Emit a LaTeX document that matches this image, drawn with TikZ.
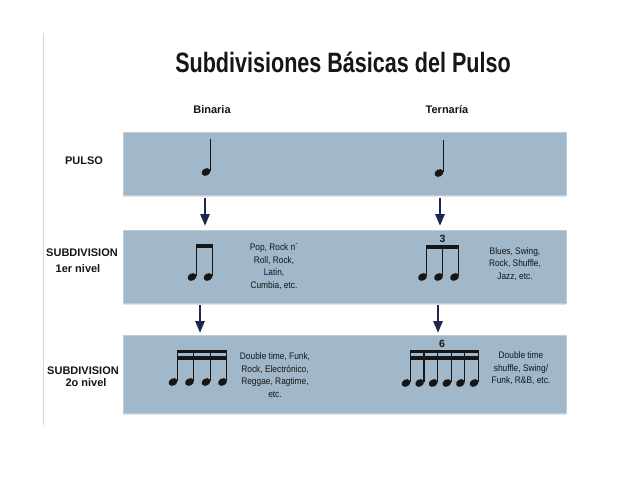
\documentclass[tikz,border=0pt]{standalone}
\usepackage{fontspec}
\setmainfont{Liberation Sans}
\newfontfamily\titlefont{Liberation Sans}[FakeStretch=0.77]
\newfontfamily\narrowfont{Liberation Sans}[FakeStretch=0.88]
\usetikzlibrary{shadows,arrows.meta}
\definecolor{bandcol}{RGB}{160,184,202}
\definecolor{arrcol}{RGB}{30,38,80}
\definecolor{inkcol}{RGB}{22,22,22}
\definecolor{rulecol}{RGB}{215,215,215}
\tikzset{
  band/.style={fill=bandcol, draw=bandcol!70!white, line width=0.8pt, minimum width=443pt, inner sep=0pt,
    drop shadow={opacity=0.22, shadow xshift=0pt, shadow yshift=-2pt}},
  rowlab/.style={font=\fontsize{11}{13}\selectfont\bfseries, anchor=base, inner sep=0pt, text=inkcol},
  info/.style={font=\narrowfont\fontsize{9.5}{12.6}\selectfont, align=center, inner sep=0pt, text=inkcol},
  flow/.style={draw=arrcol, line width=2.6pt, -{Triangle[width=9pt,length=12pt]}},
  stemline/.style={draw=inkcol, line width=1.2pt},
  beamfill/.style={fill=inkcol},
  nh/.pic={\fill[inkcol, rotate=30] (0,0) ellipse [x radius=4.6pt, y radius=3.6pt];}
}
\begin{document}
\begin{tikzpicture}[x=1pt,y=-1pt]
\fill[white] (0,0) rectangle (638,479);
\useasboundingbox (0,0) rectangle (638,479);
\draw[rulecol, line width=1pt] (43,33) -- (43,425);

% title and column heads
\node[anchor=base, inner sep=0pt, font=\titlefont\fontsize{28}{32}\selectfont\bfseries, text=inkcol] (title) at (343,72) {Subdivisiones Básicas del Pulso};
\node[rowlab] (bin) at (212,113) {Binaria};
\node[rowlab] (ter) at (447,113) {Ternaría};

% bands
\node[band, minimum height=63pt] (b1) at (344.5,163.5) {};
\node[band, minimum height=73pt] (b2) at (344.5,266.5) {};
\node[band, minimum height=78pt] (b3) at (344.5,374) {};

% row labels
\node[rowlab] (l1) at (84,164) {PULSO};
\node[rowlab] (l2a) at (82,256) {SUBDIVISION};
\node[rowlab] (l2b) at (78,272) {1er nivel};
\node[rowlab] (l3a) at (83,374) {SUBDIVISION};
\node[rowlab] (l3b) at (86,386) {2o nivel};

% arrows
\coordinate (a1s) at (205,198); \coordinate (a1e) at (205,226);
\coordinate (a2s) at (440,198); \coordinate (a2e) at (440,226);
\coordinate (a3s) at (200,305); \coordinate (a3e) at (200,333);
\coordinate (a4s) at (438,305); \coordinate (a4e) at (438,333);
\draw[flow] (a1s) -- (a1e);
\draw[flow] (a2s) -- (a2e);
\draw[flow] (a3s) -- (a3e);
\draw[flow] (a4s) -- (a4e);

% quarter notes
\pic at (206,172) {nh};
\draw[stemline] (210.3,171) -- (210.3,139);
\pic at (439,173) {nh};
\draw[stemline] (443.3,172) -- (443.3,140);

% eighths (binaria)
\foreach \x in {192,208} {
  \pic at (\x,277) {nh};
  \draw[stemline] (\x+4.3,276) -- (\x+4.3,245);
}
\fill[beamfill] (195.7,244) rectangle (212.9,247.5);

% triplet (ternaria)
\foreach \x in {422.5,438.5,454.5} {
  \pic at (\x,277) {nh};
  \draw[stemline] (\x+4.3,276) -- (\x+4.3,246);
}
\fill[beamfill] (426.2,245) rectangle (459.4,248.5);
\node[anchor=base, inner sep=0pt, font=\fontsize{10.5}{12}\selectfont\bfseries, text=inkcol] (t3) at (442.5,242) {3};

% sixteenths (binaria)
\foreach \x in {173,189.5,206,222.5} {
  \pic at (\x,382) {nh};
  \draw[stemline] (\x+4.3,381) -- (\x+4.3,350);
}
\fill[beamfill] (176.7,350) rectangle (227.4,353.2);
\fill[beamfill] (176.7,356.4) rectangle (227.4,359.6);

% sextuplet (ternaria)
\foreach \x in {406,419.6,433.2,446.8,460.4,474} {
  \pic at (\x,383) {nh};
  \draw[stemline] (\x+4.3,382) -- (\x+4.3,351);
}
\fill[beamfill] (409.7,350) rectangle (478.9,353.2);
\fill[beamfill] (409.7,356.4) rectangle (478.9,359.6);
\node[anchor=base, inner sep=0pt, font=\fontsize{10.5}{12}\selectfont\bfseries, text=inkcol] (t6) at (442,347.5) {6};

% style texts
\node[info] (s1) at (274,266.5) {Pop, Rock n´\\Roll, Rock,\\Latin,\\Cumbia, etc.};
\node[info] (s2) at (515,264) {Blues, Swing,\\Rock, Shuffle,\\Jazz, etc.};
\node[info] (s3) at (275,375) {Double time, Funk,\\Rock, Electrónico,\\Reggae, Ragtime,\\etc.};
\node[info] (s4) at (521,368.5) {Double time\\shuffle, Swing/\\Funk, R\&B, etc.};
\end{tikzpicture}
\end{document}
